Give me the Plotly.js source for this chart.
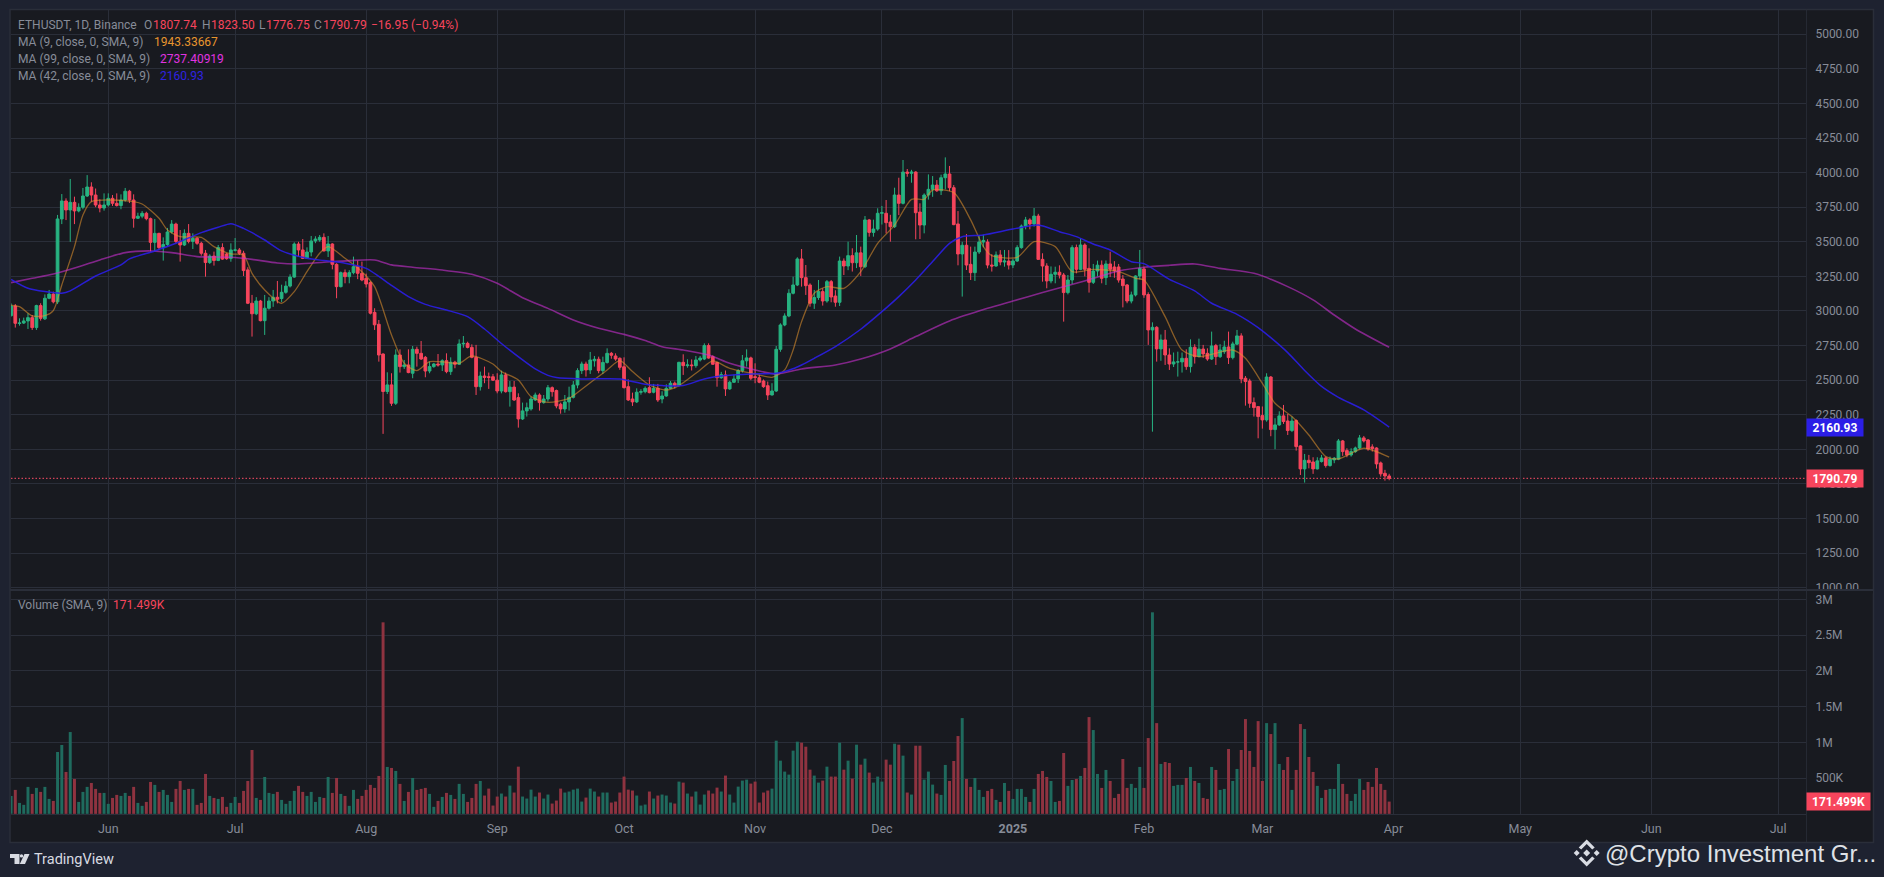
<!DOCTYPE html>
<html><head><meta charset="utf-8">
<script src="https://cdn.plot.ly/plotly-3.0.1.min.js"></script>
<style>html,body{margin:0;padding:0;background:#1e2230;overflow:hidden}#c{width:1884px;height:877px}</style>
</head><body><div id="c"></div>
<script>
const startDate='2024-05-09';
const opens=[2966,3036,2910,2913,2928,2952,2880,3039,2943,3092,
3122,3066,3665,3795,3730,3785,3723,3749,3831,3896,
3838,3766,3744,3766,3814,3778,3762,3802,3865,3802,
3670,3685,3706,3667,3496,3561,3458,3480,3571,3628,
3503,3477,3561,3503,3525,3489,3417,3350,3397,3365,
3458,3412,3380,3439,3441,3417,3297,3056,2980,3072,
2930,3020,3072,3099,3090,3135,3180,3245,3484,3441,
3380,3426,3506,3513,3532,3434,3484,3337,3176,3277,
3248,3277,3320,3272,3236,3205,2990,2904,2689,2418,
2466,2333,2682,2598,2610,2550,2723,2694,2665,2566,
2598,2617,2610,2641,2562,2630,2615,2762,2766,2737,
2665,2453,2530,2525,2525,2500,2422,2538,2417,2450,
2374,2220,2278,2292,2357,2393,2338,2364,2446,2425,
2326,2292,2343,2376,2465,2569,2617,2574,2640,2651,
2569,2628,2694,2675,2658,2597,2453,2364,2343,2413,
2417,2446,2413,2441,2364,2386,2441,2478,2461,2629,
2605,2610,2605,2646,2653,2750,2670,2628,2518,2538,
2437,2485,2509,2569,2640,2661,2525,2518,2494,2460,
2393,2422,2723,2899,2964,3128,3188,3376,3241,3188,
3056,3097,3140,3072,3212,3108,3063,3361,3325,3400,
3349,3420,3320,3658,3568,3592,3706,3706,3643,3609,
3838,3778,4004,3995,4004,3715,3621,3838,3879,3910,
3869,3963,3990,3891,3629,3412,3475,3337,3277,3426,
3498,3498,3332,3325,3405,3354,3361,3332,3361,3458,
3614,3658,3629,3686,3373,3325,3217,3265,3280,3260,
3133,3224,3458,3301,3477,3308,3207,3289,3331,3241,
3340,3318,3318,3231,3188,3072,3116,3253,3304,3119,
2863,2882,2726,2791,2682,2617,2632,2632,2658,2598,
2738,2670,2725,2694,2653,2750,2670,2706,2740,2663,
2760,2820,2514,2494,2338,2309,2244,2213,2523,2143,
2177,2242,2205,2136,2208,2025,1859,1921,1909,1859,
1912,1938,1883,1924,1929,2061,1991,1960,1984,2010,
2083,2068,2018,2010,1902,1827,1807.74];
const closes=[3036,2911,2913,2928,2952,2880,3039,2947,3092,3122,
3066,3665,3795,3730,3785,3723,3749,3831,3896,3838,
3766,3744,3766,3814,3778,3762,3802,3865,3802,3670,
3685,3706,3667,3496,3561,3458,3480,3571,3628,3503,
3477,3561,3503,3525,3489,3417,3350,3397,3365,3458,
3375,3378,3441,3441,3417,3292,3056,2980,3072,2930,
3020,3072,3099,3085,3135,3180,3245,3484,3441,3380,
3426,3506,3520,3532,3434,3484,3337,3176,3277,3248,
3277,3320,3272,3224,3195,2984,2900,2682,2418,2466,
2333,2682,2598,2610,2555,2723,2694,2653,2566,2598,
2617,2610,2641,2562,2630,2615,2762,2766,2737,2665,
2453,2530,2520,2520,2500,2422,2538,2417,2450,2357,
2220,2278,2301,2364,2393,2338,2364,2446,2417,2314,
2292,2343,2376,2465,2569,2617,2574,2646,2651,2569,
2628,2694,2680,2653,2593,2446,2357,2343,2413,2417,
2441,2410,2441,2357,2386,2441,2478,2461,2629,2605,
2610,2605,2646,2660,2750,2660,2615,2518,2540,2437,
2485,2509,2569,2640,2661,2514,2520,2485,2453,2393,
2422,2723,2899,2964,3128,3188,3376,3241,3183,3056,
3097,3140,3072,3212,3101,3063,3361,3325,3400,3349,
3420,3320,3658,3568,3592,3706,3710,3638,3609,3838,
3778,4004,3995,4004,3710,3621,3838,3879,3910,3869,
3963,3990,3891,3624,3412,3475,3332,3277,3426,3498,
3510,3332,3325,3405,3354,3361,3332,3361,3458,3614,
3658,3629,3686,3373,3325,3217,3265,3280,3260,3133,
3224,3458,3301,3477,3301,3207,3289,3331,3236,3340,
3301,3292,3224,3183,3072,3116,3253,3308,3116,2863,
2882,2726,2791,2682,2617,2632,2632,2658,2598,2738,
2670,2725,2690,2653,2747,2670,2718,2740,2663,2762,
2820,2509,2490,2333,2302,2237,2213,2523,2143,2177,
2242,2201,2136,2205,2020,1859,1921,1904,1859,1917,
1938,1883,1929,1936,2061,1984,1960,1984,2010,2083,
2061,2003,2006,1895,1823,1807.74,1790.79];
const highs=[3055,3050,2947,2952,2983,2971,3045,3056,3120,3152,
3140,3694,3845,3814,3954,3826,3778,3889,3982,3930,
3885,3807,3850,3850,3838,3850,3843,3889,3875,3843,
3710,3722,3717,3675,3665,3565,3532,3600,3657,3638,
3585,3590,3628,3561,3535,3500,3441,3410,3429,3477,
3489,3420,3489,3527,3455,3435,3316,3116,3100,3080,
3116,3100,3152,3217,3190,3215,3265,3496,3500,3520,
3460,3542,3540,3549,3561,3542,3490,3345,3285,3300,
3295,3393,3364,3357,3270,3215,3020,2935,2694,2557,
2550,2723,2723,2646,2723,2747,2742,2783,2675,2634,
2625,2689,2651,2694,2665,2640,2795,2819,2778,2759,
2755,2562,2598,2555,2545,2550,2569,2555,2494,2494,
2405,2338,2338,2381,2410,2405,2393,2465,2455,2432,
2338,2393,2453,2494,2586,2634,2634,2704,2675,2670,
2670,2730,2704,2694,2665,2665,2506,2410,2441,2435,
2455,2521,2473,2473,2420,2470,2494,2490,2633,2687,
2651,2650,2675,2675,2766,2766,2680,2633,2560,2570,
2495,2540,2580,2682,2723,2670,2622,2540,2505,2490,
2478,2747,2911,2983,3157,3248,3388,3448,3332,3200,
3152,3224,3164,3224,3224,3150,3393,3380,3501,3453,
3549,3465,3686,3665,3660,3742,3759,3802,3695,3891,
3963,4091,4026,4020,4010,3778,3850,3987,3975,3946,
3985,4110,4048,3910,3722,3500,3556,3465,3465,3549,
3552,3518,3410,3430,3440,3441,3440,3375,3475,3625,
3680,3670,3744,3702,3417,3345,3322,3320,3330,3275,
3260,3475,3480,3525,3489,3453,3340,3364,3365,3365,
3429,3360,3340,3260,3195,3140,3258,3441,3320,3135,
2918,2890,2830,2863,2730,2700,2706,2700,2723,2795,
2760,2800,2755,2730,2851,2762,2760,2785,2851,2778,
2863,2839,2530,2510,2375,2310,2310,2550,2530,2225,
2275,2321,2256,2237,2217,2030,1967,1960,1943,1943,
1960,1948,1948,1945,2075,2068,2008,2008,2020,2104,
2097,2075,2037,2015,1912,1852,1823.50];
const lows=[2960,2880,2894,2906,2870,2863,2863,2930,2935,3085,
3055,3050,3628,3657,3500,3628,3713,3735,3824,3790,
3750,3713,3725,3755,3759,3755,3735,3790,3780,3602,
3665,3670,3655,3430,3430,3441,3364,3470,3560,3490,
3357,3470,3489,3448,3478,3400,3248,3340,3328,3360,
3370,3370,3356,3430,3405,3253,3050,2815,2970,2925,
2827,3010,3030,3055,3065,3125,3170,3240,3393,3375,
3375,3395,3490,3500,3430,3390,3301,3092,3170,3200,
3200,3265,3230,3215,3170,2975,2863,2634,2112,2400,
2314,2321,2555,2581,2550,2514,2598,2646,2521,2550,
2590,2598,2566,2550,2538,2586,2610,2735,2730,2658,
2393,2425,2478,2437,2495,2405,2405,2410,2309,2350,
2157,2212,2237,2280,2350,2280,2330,2345,2381,2297,
2258,2265,2280,2368,2441,2545,2526,2545,2598,2550,
2545,2620,2655,2640,2575,2440,2350,2314,2335,2395,
2405,2405,2405,2343,2333,2380,2435,2440,2455,2538,
2590,2570,2590,2635,2645,2655,2610,2453,2510,2386,
2430,2480,2480,2555,2598,2500,2478,2478,2445,2357,
2390,2415,2705,2890,2955,3120,3180,3176,3116,3031,
3015,3080,3039,3060,3063,3031,3036,3260,3295,3285,
3310,3253,3310,3537,3537,3580,3625,3561,3501,3600,
3693,3770,3970,3927,3518,3520,3561,3805,3825,3860,
3838,3879,3865,3620,3330,3104,3296,3224,3217,3412,
3460,3308,3285,3320,3330,3320,3300,3310,3355,3450,
3590,3590,3610,3370,3212,3164,3200,3200,3235,2923,
3120,3195,3272,3295,3250,3133,3195,3250,3200,3188,
3245,3240,3205,3026,3056,3055,3105,3228,3095,2755,
2128,2634,2640,2610,2574,2595,2526,2555,2575,2555,
2620,2665,2660,2640,2646,2610,2660,2690,2617,2650,
2755,2478,2316,2300,2237,2080,2150,2200,2095,2001,
2170,2184,2104,2125,1991,1815,1760,1863,1823,1855,
1905,1868,1875,1900,1922,1953,1943,1948,1975,2000,
2050,1990,1984,1861,1803,1774,1776.75];
const volumesK=[251,335,153,126,377,279,363,307,377,209,
181,865,963,586,1144,488,167,307,377,432,
349,293,293,140,223,265,251,293,251,377,
153,112,167,446,405,307,335,265,167,349,
460,335,349,349,126,153,558,251,223,209,
237,98,153,237,153,321,460,893,223,195,
516,293,279,307,195,140,181,321,391,307,
251,307,167,237,223,516,293,502,279,251,
112,335,209,251,335,405,363,530,2678,656,
642,600,419,181,307,502,335,349,363,279,
98,181,237,293,265,209,419,279,167,223,
419,460,256,353,116,242,284,242,395,298,
660,242,214,339,242,298,214,270,144,186,
353,298,312,339,353,172,228,353,312,242,
298,298,158,172,298,521,339,326,256,116,
130,312,214,256,270,256,158,144,451,437,
284,242,312,130,270,326,284,367,312,535,
270,158,381,465,479,423,451,158,298,326,
353,1023,744,591,549,884,1009,995,939,618,
535,437,465,660,521,521,995,618,744,493,
967,688,772,577,437,521,451,758,688,981,
967,814,298,270,953,953,479,591,409,284,
265,684,460,739,1088,1339,488,377,502,335,
237,321,349,195,167,432,321,209,349,349,
237,167,349,558,600,516,460,167,181,851,
391,474,488,530,642,1353,1172,558,363,614,
460,223,279,767,363,419,363,656,363,1060,
2818,1269,698,725,711,391,405,405,502,656,
460,432,223,209,656,614,335,349,907,460,
628,893,1325,879,656,1297,460,1269,1116,1269,
698,614,795,335,614,1256,1186,795,586,391,
223,335,349,349,698,419,279,181,279,488,
335,446,377,642,419,335,171.499];
const ma9Days=[0,2,5,8,10,12,15,17,19,24,29,31,35,37,40,45,48,52,55,57,60,64,67,70,73,75,79,83,86,90,93,96,99,103,106,109,114,116,120,123,127,132,135,141,144,147,151,155,158,163,166,170,176,180,183,185,187,190,193,197,201,205,209,213,216,218,223,227,230,232,238,242,247,251,256,262,266,268,273,277,281,289,292,296,299,303,307,311,314,320,326];
const ma9Vals=[3043,3031,2964,2966,3003,3188,3465,3694,3790,3802,3790,3773,3670,3585,3537,3532,3465,3412,3405,3272,3152,3056,3140,3284,3417,3465,3381,3284,3176,2827,2622,2569,2634,2629,2622,2675,2617,2562,2502,2381,2340,2369,2434,2574,2641,2562,2465,2429,2461,2574,2639,2586,2545,2521,2574,2718,2923,3128,3176,3164,3284,3489,3621,3807,3807,3874,3855,3658,3465,3400,3388,3501,3465,3284,3301,3284,3236,3224,2959,2718,2670,2718,2658,2477,2333,2237,2104,1948,1931,2008,1943.34];
const ma42Days=[0,4,8,12,14,20,26,28,34,39,45,49,52,55,60,64,70,74,79,84,87,90,94,98,103,108,112,116,121,124,127,129,135,144,150,154,159,164,169,175,181,184,187,190,195,201,206,210,214,218,222,225,230,237,243,248,252,256,260,265,268,274,280,284,290,295,298,302,306,310,314,320,326];
const ma42Vals=[3229,3164,3140,3128,3145,3253,3333,3376,3434,3489,3566,3605,3631,3597,3513,3434,3381,3364,3345,3308,3250,3185,3104,3048,3007,2959,2870,2765,2646,2581,2535,2519,2509,2509,2470,2461,2461,2509,2533,2545,2550,2572,2610,2658,2743,2868,2995,3104,3224,3357,3489,3537,3549,3592,3621,3573,3537,3484,3441,3356,3342,3229,3145,3056,2976,2880,2807,2699,2570,2455,2376,2285,2160.93];
const ma99Days=[0,5,10,16,21,27,33,38,44,52,57,63,68,74,80,86,90,95,102,109,115,121,127,133,139,145,150,154,159,165,170,176,181,187,195,201,208,214,222,231,237,244,252,256,262,268,274,280,286,294,302,308,313,318,326];
const ma99Vals=[3205,3236,3267,3320,3369,3422,3434,3422,3393,3388,3373,3347,3340,3352,3364,3369,3333,3316,3296,3265,3200,3096,3019,2935,2875,2831,2786,2742,2718,2682,2622,2574,2545,2581,2610,2653,2726,2815,2928,3019,3072,3133,3200,3236,3289,3316,3330,3340,3308,3272,3176,3080,2971,2870,2737.41];
const monthTicks=['2024-06-01','2024-07-01','2024-08-01','2024-09-01','2024-10-01','2024-11-01','2024-12-01','2025-01-01','2025-02-01','2025-03-01','2025-04-01','2025-05-01','2025-06-01','2025-07-01'];
const monthLabels=['Jun','Jul','Aug','Sep','Oct','Nov','Dec','<b>2025</b>','Feb','Mar','Apr','May','Jun','Jul'];
const priceTicks=[1000,1250,1500,1750,2000,2250,2500,2750,3000,3250,3500,3750,4000,4250,4500,4750,5000];
const volTicks=[500,1000,1500,2000,2500,3000];
const volLabels=['500K','1M','1.5M','2M','2.5M','3M'];
const lastClose=1790.79, ma42Last=2160.93, volMaLast=171.499;

const UP='#27b381',DOWN='#f7455c',VUP='#1f6b5e',VDOWN='#8f3340',GRAY='#878c98',GRID='#2a2e39',BG='#181a20',OUTER='#1e2230';
const FONT='Roboto, sans-serif';
const W=1884,H=877,px=x=>x/W,py=y=>1-y/H;
const dayMs=86400000,t0=Date.parse(startDate+'T00:00:00Z');
const dayStr=i=>new Date(t0+i*dayMs).toISOString().slice(0,10);
const dates=closes.map((_,i)=>dayStr(i));

const traces=[
 {type:'candlestick',x:dates,open:opens,high:highs,low:lows,close:closes,xaxis:'x',yaxis:'y',
  increasing:{line:{color:UP,width:1},fillcolor:UP},decreasing:{line:{color:DOWN,width:1},fillcolor:DOWN},whiskerwidth:0,hoverinfo:'skip',showlegend:false},
 {type:'scatter',mode:'lines',x:ma9Days.map(dayStr),y:ma9Vals,line:{color:'#e8952e',width:1.3,shape:'spline',smoothing:0.7},opacity:.55,xaxis:'x',yaxis:'y',hoverinfo:'skip',showlegend:false},
 {type:'scatter',mode:'lines',x:ma99Days.map(dayStr),y:ma99Vals,line:{color:'#c92fd0',width:1.6,shape:'spline',smoothing:0.7},opacity:.6,xaxis:'x',yaxis:'y',hoverinfo:'skip',showlegend:false},
 {type:'scatter',mode:'lines',x:ma42Days.map(dayStr),y:ma42Vals,line:{color:'#2b1ee6',width:1.5,shape:'spline',smoothing:0.7},opacity:.9,xaxis:'x',yaxis:'y',hoverinfo:'skip',showlegend:false},
 {type:'bar',x:dates,y:volumesK,marker:{color:closes.map((c,i)=>c>=opens[i]?VUP:VDOWN),line:{width:0}},xaxis:'x',yaxis:'y2',hoverinfo:'skip',showlegend:false}
];

const legendRows=[
 [17,25,'ETHUSDT, 1D, Binance',GRAY],[143,25,'O',GRAY],[152,25,'1807.74',DOWN],[201,25,'H',GRAY],[209.5,25,'1823.50',DOWN],[258,25,'L',GRAY],[264.5,25,'1776.75',DOWN],[313,25,'C',GRAY],[322,25,'1790.79',DOWN],[370,25,'−16.95 (−0.94%)',DOWN],
 [17,41.7,'MA (9, close, 0, SMA, 9)',GRAY],[152.7,41.7,'1943.33667','#e8952e'],
 [17,59,'MA (99, close, 0, SMA, 9)',GRAY],[158.5,59,'2737.40919','#e133e0'],
 [17,76,'MA (42, close, 0, SMA, 9)',GRAY],[158.5,76,'2160.93','#2f22e0'],
 [17,604.7,'Volume (SMA, 9)',GRAY],[112,604.7,'171.499K',DOWN]
];
const annotations=legendRows.map(r=>({xref:'paper',yref:'paper',x:px(r[0]),y:py(r[1]),text:r[2],showarrow:false,xanchor:'left',yanchor:'middle',font:{family:FONT,size:12,color:r[3]},borderpad:0}));
const badge=(y,yref,text,color,w)=>({xref:'paper',yref,x:px(1806),y,text,showarrow:false,xanchor:'left',yanchor:'middle',bgcolor:color,width:w,height:17,align:'center',valign:'middle',borderpad:0,font:{family:FONT,size:12,color:'#ffffff'}});
annotations.push(badge(ma42Last,'y','<b>2160.93</b>','#2b1ee6',56));
annotations.push(badge(lastClose,'y','<b>1790.79</b>',DOWN,56));
annotations.push(badge(volMaLast,'y2','<b>171.499K</b>',DOWN,63));
annotations.push({xref:'paper',yref:'paper',x:px(33),y:py(859.5),text:'TradingView',showarrow:false,xanchor:'left',yanchor:'middle',font:{family:FONT,size:14.5,color:'#d8dbe2'},borderpad:0});
annotations.push({xref:'paper',yref:'paper',x:px(1604),y:py(853),text:'@Crypto Investment Gr...',showarrow:false,xanchor:'left',yanchor:'middle',font:{family:'Liberation Sans, Arial, sans-serif',size:24,color:'#dfe1e6'},borderpad:0});

const poly=(pts,color)=>({type:'path',xref:'paper',yref:'paper',layer:'above',fillcolor:color,line:{width:0},path:'M'+pts.map(p=>px(p[0])+','+py(p[1])).join('L')+'Z'});
const rect=(x0,y0,x1,y1,fill,layer,line)=>({type:'rect',xref:'paper',yref:'paper',x0:px(x0),y0:py(y0),x1:px(x1),y1:py(y1),fillcolor:fill,layer:layer||'below',line:line||{width:0}});
const cx=1586.7,cy=853,LG='#d9dce3',TV='#d8dbe2';
const dia=(x,y,r)=>poly([[x,y-r],[x+r,y],[x,y+r],[x-r,y]],LG);
const shapes=[
 rect(10,9.5,1873.5,842.5,BG,'below',{color:GRID,width:1.5}),
 rect(1806,589.5,1873,593.5,BG,'above'),
 rect(10,589,1873,591,GRID,'above'),
 rect(1806,9.5,1806.8,842,GRID,'above'),
 {type:'line',xref:'x domain',yref:'y',x0:0,x1:1,y0:lastClose,y1:lastClose,layer:'below',line:{color:'#ff4d66',width:1,dash:'1.5px 2px'}},
 dia(cx,cy,3.5),dia(cx-10,cy,3),dia(cx+10,cy,3),
 poly([[cx,cy-13.5],[cx+8,cy-5.5],[cx+5.5,cy-3.5],[cx,cy-9],[cx-5.5,cy-3.5],[cx-8,cy-5.5]],LG),
 poly([[cx,cy+13.5],[cx+8,cy+5.5],[cx+5.5,cy+3.5],[cx,cy+9],[cx-5.5,cy+3.5],[cx-8,cy+5.5]],LG),
 poly([[10,854],[19.5,854],[19.5,864],[14.5,864],[14.5,858],[10,858]],TV),
 {type:'circle',xref:'paper',yref:'paper',layer:'above',x0:px(19.8),x1:px(23.2),y0:py(857.6),y1:py(854.2),fillcolor:TV,line:{width:0}},
 poly([[24.5,854],[29.5,854],[25,864],[19.8,864]],TV)
];

const layout={
 width:W,height:H,margin:{l:0,r:0,t:0,b:0},paper_bgcolor:OUTER,plot_bgcolor:'rgba(0,0,0,0)',
 font:{family:FONT,size:12,color:GRAY},showlegend:false,hovermode:false,dragmode:false,bargap:0.3,boxgap:0.2,boxgroupgap:0.2,
 xaxis:{domain:[px(11),px(1806)],type:'date',range:['2024-05-08 23:40','2025-07-07 14:24'],anchor:'y2',showgrid:true,gridcolor:GRID,gridwidth:1,
   tickmode:'array',tickvals:monthTicks,ticktext:monthLabels,ticks:'outside',ticklen:3,tickcolor:BG,tickfont:{family:FONT,size:12.5,color:GRAY},
   showline:true,linecolor:GRID,zeroline:false,rangeslider:{visible:false},fixedrange:true},
 yaxis:{domain:[py(589),py(10)],range:[991,5175],side:'right',anchor:'x',tickmode:'array',tickvals:priceTicks,ticktext:priceTicks.map(v=>v.toFixed(2)),
   showgrid:true,gridcolor:GRID,gridwidth:1,zeroline:false,ticks:'outside',ticklen:6,tickcolor:BG,tickfont:{family:FONT,size:12,color:GRAY},fixedrange:true},
 yaxis2:{domain:[py(814),py(591)],range:[-2,3116],side:'right',anchor:'x',tickmode:'array',tickvals:volTicks,ticktext:volLabels,
   showgrid:true,gridcolor:GRID,gridwidth:1,zeroline:false,ticks:'outside',ticklen:6,tickcolor:BG,tickfont:{family:FONT,size:12,color:GRAY},fixedrange:true},
 annotations,shapes
};
Plotly.newPlot('c',traces,layout,{displayModeBar:false,staticPlot:true});
</script></body></html>
